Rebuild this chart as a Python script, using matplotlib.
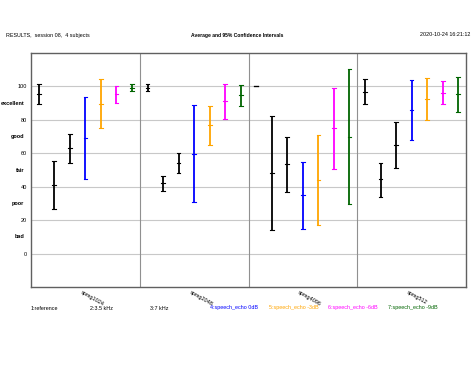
import matplotlib
matplotlib.use("Agg")
import matplotlib.pyplot as plt
from matplotlib.transforms import offset_copy

plt.rcParams["font.family"] = ["Liberation Sans", "DejaVu Sans"]

groups = ["spmg1024", "spmg2048", "spmg4096", "spmg512"]
conditions = ["1:reference", "2:3.5 kHz", "3:7 kHz", "4:speech_echo 0dB",
              "5:speech_echo -3dB", "6:speech_echo -6dB", "7:speech_echo -9dB"]
colors = ["black", "black", "black", "#0000ff", "#ffa500", "#ff00ff", "#006400"]

# mean, lower, upper per group (7 conditions each)
means = [
    [95.7, 40.9, 63.0, 69.0, 89.7, 95.3, 99.3],
    [99.3, 42.4, 54.4, 59.8, 76.7, 91.3, 94.7],
    [100.0, 48.4, 53.4, 34.8, 43.8, 74.9, 69.7],
    [96.7, 44.4, 64.7, 85.9, 92.7, 96.3, 95.3],
]
lows = [
    [89.7, 26.8, 54.4, 44.4, 75.0, 90.3, 97.0],
    [97.0, 37.4, 48.4, 31.0, 64.7, 80.3, 88.3],
    [100.0, 14.4, 36.8, 14.8, 16.8, 50.4, 29.4],
    [89.3, 34.0, 51.0, 67.9, 79.9, 89.3, 84.7],
]
highs = [
    [101.3, 55.3, 71.5, 93.7, 104.3, 100.3, 101.7],
    [101.3, 46.3, 60.4, 88.7, 88.3, 101.7, 100.9],
    [100.0, 82.3, 70.0, 54.7, 70.7, 99.3, 110.3],
    [104.3, 54.4, 78.7, 103.9, 104.9, 103.3, 105.9],
]
yticks = [0, 20, 40, 60, 80, 100]
quality = ["bad", "poor", "fair", "good", "excellent"]
quality_pos = [10, 30, 50, 70, 90]

fig = plt.figure(figsize=(4.74, 3.66), dpi=100)
ax = fig.add_axes([31 / 474, 1 - 287 / 366, 435 / 474, 234 / 366])
n = len(conditions)
for g in range(len(groups)):
    for i in range(n):
        x = g * n + i + 0.5
        c = colors[i]
        ax.plot([x, x], [lows[g][i], highs[g][i]], color=c, lw=1.3,
                solid_capstyle="butt")
        for y in (lows[g][i], highs[g][i], means[g][i]):
            ax.plot([x - 0.12, x + 0.12], [y, y], color=c, lw=0.8)

for y in yticks:
    ax.axhline(y, color="#c8c8c8", lw=0.8, zorder=0)
for g in range(1, len(groups)):
    ax.axvline(g * n, color="#909090", lw=0.8, zorder=0)

ax.set_xlim(0, n * len(groups))
ax.set_ylim(-20, 120)
ax.set_xticks([])
ax.set_yticks(yticks)
ax.set_yticklabels([str(v) for v in yticks], fontsize=4.0)
ax.tick_params(axis="y", length=0, pad=3)
for s in ax.spines.values():
    s.set_color("#606060")
    s.set_linewidth(1.0)

ylab = offset_copy(ax.get_yaxis_transform(), fig=fig, x=-5, y=0, units="points")
for q, p in zip(quality, quality_pos):
    ax.text(0, p, q, fontsize=4.0, fontweight="bold", ha="right",
            va="center", transform=ylab)

for g, name in enumerate(groups):
    ax.text(g * n + n / 2 - 0.2, -21.5, name, fontsize=4.0, rotation=-30,
            ha="left", va="top", rotation_mode="anchor")

for i, (cond, c) in enumerate(zip(conditions, colors)):
    fig.text((31 + 59.5 * i) / 474, 1 - 308 / 366, cond, fontsize=3.9,
             color=c, va="center", ha="left")

fig.text(6 / 474, 1 - 35 / 366, "RESULTS,  session 08,  4 subjects",
         fontsize=3.9, va="center")
fig.text(237 / 474, 1 - 35 / 366, "Average and 95% Confidence Intervals",
         fontsize=3.6, fontweight="bold", ha="center", va="center")
fig.text(470 / 474, 1 - 35 / 366, "2020-10-24 16:21:12", fontsize=3.9,
         ha="right", va="center")

fig.savefig("out.png", dpi=100)
